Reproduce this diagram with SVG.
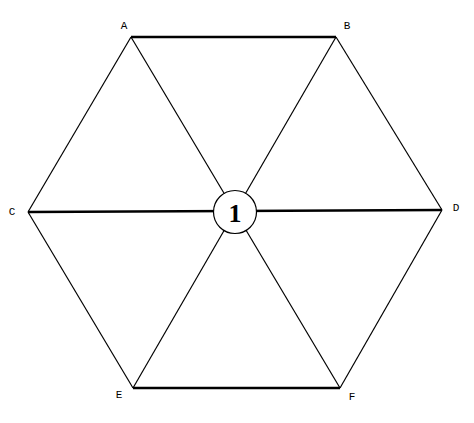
<svg xmlns="http://www.w3.org/2000/svg" width="474" height="423" viewBox="0 0 474 423">
<style>
.thin{stroke:#000;stroke-width:1.2;fill:none}
.thick{stroke:#000;stroke-width:2.5;fill:none}
.lbl{font-family:"Liberation Mono","DejaVu Sans Mono",monospace;font-size:11px;fill:#000;text-anchor:middle;dominant-baseline:central}
</style>
<rect width="474" height="423" fill="#fff"/>
<g id="connectors">
<line class="thick" x1="131" y1="37" x2="336" y2="37"/>
<line class="thick" x1="133" y1="388" x2="340" y2="388"/>
<line class="thick" x1="28" y1="212" x2="442" y2="210"/>
<line class="thin" x1="131" y1="37" x2="28" y2="212"/>
<line class="thin" x1="28" y1="212" x2="133" y2="388"/>
<line class="thin" x1="336" y1="37" x2="442" y2="210"/>
<line class="thin" x1="442" y1="210" x2="340" y2="388"/>
<line class="thin" x1="131" y1="37" x2="340" y2="388"/>
<line class="thin" x1="336" y1="37" x2="133" y2="388"/>
</g>
<g id="center">
<circle cx="235" cy="212" r="21.5" fill="#fff" stroke="#000" stroke-width="1.2"/>
<text x="235" y="213" font-family="Liberation Serif,serif" font-weight="bold" font-size="26" text-anchor="middle" dominant-baseline="central">1</text>
</g>
<g id="A"><text class="lbl" x="124" y="26">A</text></g>
<g id="B"><text class="lbl" x="347" y="26">B</text></g>
<g id="C"><text class="lbl" x="12" y="212">C</text></g>
<g id="D"><text class="lbl" x="456" y="208">D</text></g>
<g id="E"><text class="lbl" x="119" y="395">E</text></g>
<g id="F"><text class="lbl" x="352" y="397">F</text></g>
</svg>
